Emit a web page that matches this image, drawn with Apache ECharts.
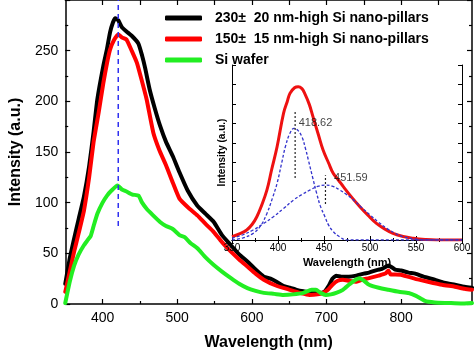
<!DOCTYPE html>
<html><head><meta charset="utf-8">
<script src="https://cdn.jsdelivr.net/npm/echarts@6/dist/echarts.min.js"></script>
<style>html,body{margin:0;padding:0;background:#fff}#c{width:474px;height:356px}</style>
</head><body><div id="c"></div>
<script>
// ---- main chart data (wavelength nm, intensity a.u.) ----
const seriesNames = ['230\u00b1  20 nm-high Si nano-pillars', '150\u00b1  15 nm-high Si nano-pillars', 'Si wafer'];
const blackData = [[350,20],[356,45],[362,65],[368,84],[375,106],[382,136],[388,170],[393,202],[401,235],[406,252],[410,268],[414,278],[417,282],[421,280],[426,273],[432,269],[440,264],[448,257],[453,245],[457,233],[463,212],[470,193],[477,176],[485,160],[494,146],[503,130],[514,112],[527,97],[538,89],[549,81],[560,68],[572,58],[583,49],[594,42],[605,34],[616,27],[625,25],[633,22],[642,18],[651,16],[660,14],[669,12.5],[680,11],[691,11],[697,12],[703,18],[708,25],[713,28],[720,27],[730,27],[740,28],[750,30],[757,31],[765,33],[775,35],[783,38],[788,36],[792,34],[800,33],[810,31],[819,30],[830,27],[845,24],[858,21],[872,19],[885,17],[895,16]];
const redData = [[350,12],[356,32],[362,52],[368,70],[375,92],[382,125],[388,160],[395,190],[401,218],[406,238],[410,251],[415,260],[421,266],[426,263],[432,261],[439,250],[446,238],[452,222],[459,202],[468,169],[476,152],[485,137],[494,120],[503,104],[515,95],[527,87.5],[538,79],[549,71],[560,61],[572,51.6],[583,44],[594,37],[605,30],[616,24],[633,18],[651,14],[665,11],[677,9],[688,9.5],[695,10.8],[702,14],[708,19],[715,23],[722,24],[730,23],[739,22],[748,24],[757,25.5],[770,28],[779,30],[783,33],[786,29],[792,29],[801,28.7],[818,25],[836,22],[855,19],[872,17],[885,15],[895,14]];
const greenData = [[350,1],[356,22],[362,38],[368,49],[375,58],[380,63],[384,67],[388,77],[393,89],[400,100],[406,107],[412,112],[420,117],[426,113],[432,111],[440,108],[448,107],[453,100],[459,94],[467,88],[477,81],[485,77],[494,74],[503,68],[510,66],[518,60],[527,55],[538,46],[549,38.5],[560,32],[572,25.5],[583,20],[594,15.7],[605,13],[616,11],[630,10],[642,9],[655,9.5],[669,11],[680,14],[686,14],[692,11],[699,9],[706,9.5],[713,11],[722,14],[730,19],[737,23],[744,25.5],[750,23],[757,19],[770,16],[783,14],[797,12],[810,10.8],[820,8],[832,3],[845,1.5],[863,1],[880,0.5],[895,1]];
const peakMarker = [[421,77],[421,300]];
const xMajorTicks = [400,500,600,700,800];
const xMinorTicks = [450,550,650,750,850];
const xAllTicks = [400,450,500,550,600,650,700,750,800,850];

// ---- inset data (wavelength nm, relative intensity) ----
const insetRed = [[350,1.9],[358,3.5],[366,5.7],[372,9],[377,13.3],[382,19.5],[388,28.6],[393,40],[399,53.3],[406,72.4],[410,79],[413,83.8],[418,87],[422,87.6],[426,86.5],[429,83.8],[434,77.5],[438,70.5],[444,60],[449,51.4],[455,44],[460,38.1],[466,34],[471,30.5],[480,24.5],[489,19],[498,14],[507,9.5],[516,6.3],[525,3.8],[536,2],[547,1],[560,0.3],[572,0],[600,0]];
const insetG1 = [[350,0],[362,1.2],[373,3.8],[381,8],[388,15.2],[394,24],[399,32.4],[404,44],[408,53.3],[413,61],[417.4,63.8],[421,63],[426,59],[430,52],[433,45.7],[438,35],[442,26.7],[446,19.5],[451,13.3],[455,8.5],[460,4.8],[467,1.8],[475,0],[600,0]];
const insetG2 = [[350,1],[362,3],[373,5.7],[384,9.3],[395,13.3],[406,18],[417,22.9],[426,26],[435,28.6],[443,30.6],[451,31.4],[459,30.8],[467,28.6],[475,25.8],[482,22.9],[491,18.5],[500,14.3],[509,10.3],[518,6.7],[527,3.9],[536,1.9],[548,0.6],[560,0],[600,0]];
const fitPeaks = [418.62, 451.59];
const fitMarker1 = [[418.62,35.4],[418.62,74]];
const fitMarker2 = [[451.59,20.6],[451.59,37]];
const fitLabelPos = [[422.5,66.8],[460.9,35.4]];

const FONT = 'Liberation Sans, Arial, sans-serif';
const chart = echarts.init(document.getElementById('c'), null, {renderer:'canvas'});
const axisLine = {show:true, lineStyle:{color:'#000', width:1.5}};

chart.setOption({
  animation:false,
  backgroundColor:'#fff',
  grid:[
    {left:60, right:2, top:0, bottom:50, containLabel:false},
    {left:232, right:12, top:65, bottom:116, show:true, backgroundColor:'#fff', borderWidth:0, z:10}
  ],
  legend:{
    data:seriesNames, orient:'vertical', left:160, top:5, itemWidth:37, itemHeight:5, itemGap:5,
    icon:'roundRect', selectedMode:false,
    textStyle:{fontFamily:FONT, fontSize:14, fontWeight:'bold', color:'#000', lineHeight:16, padding:[0,0,0,8]}
  },
  xAxis:[
    {type:'value', gridIndex:0, position:'bottom', min:350, max:895,
     axisLine:axisLine,
     axisTick:{show:true, inside:true, length:5, customValues:xMajorTicks, lineStyle:{color:'#000', width:1.2}},
     axisLabel:{show:true, customValues:xMajorTicks, fontFamily:FONT, fontSize:14, color:'#000', margin:7},
     splitLine:{show:false},
     name:'Wavelength (nm)', nameLocation:'middle', nameGap:31,
     nameTextStyle:{fontFamily:FONT, fontSize:16, fontWeight:'bold', color:'#000'}},
    {type:'value', gridIndex:0, position:'bottom', min:350, max:895,
     axisLine:{show:false},
     axisTick:{show:true, inside:true, length:3, customValues:xMinorTicks, lineStyle:{color:'#000', width:1.2}},
     axisLabel:{show:false}, splitLine:{show:false}},
    {type:'value', gridIndex:0, position:'top', min:350, max:895,
     axisLine:axisLine,
     axisTick:{show:true, inside:true, length:5, customValues:xAllTicks, lineStyle:{color:'#000', width:1.2}},
     axisLabel:{show:false}, splitLine:{show:false}},
    {type:'value', gridIndex:1, position:'bottom', min:350, max:600, interval:50, z:11,
     axisLine:{show:true, lineStyle:{color:'#000', width:1}},
     axisTick:{show:true, inside:true, length:4, lineStyle:{color:'#000'}},
     minorTick:{show:true, splitNumber:2, length:2, lineStyle:{color:'#000'}},
     axisLabel:{show:true, fontFamily:FONT, fontSize:10, color:'#000', margin:3},
     splitLine:{show:false},
     name:'Wavelength (nm)', nameLocation:'middle', nameGap:17,
     nameTextStyle:{fontFamily:FONT, fontSize:11, fontWeight:'bold', color:'#000'}},
    {type:'value', gridIndex:1, position:'top', min:350, max:600, interval:50, z:11,
     axisLine:{show:true, lineStyle:{color:'#000', width:1}},
     axisTick:{show:true, inside:true, length:4, lineStyle:{color:'#000'}},
     minorTick:{show:true, splitNumber:2, length:2, lineStyle:{color:'#000'}},
     axisLabel:{show:false}, splitLine:{show:false}}
  ],
  yAxis:[
    {type:'value', gridIndex:0, position:'left', min:0, max:300, interval:50,
     axisLine:axisLine,
     axisTick:{show:true, inside:true, length:5, lineStyle:{color:'#000', width:1.2}},
     minorTick:{show:true, splitNumber:2, length:3, lineStyle:{color:'#000', width:1.2}},
     axisLabel:{show:true, fontFamily:FONT, fontSize:14, color:'#000', margin:7,
       formatter:v => v >= 300 ? '' : String(v)},
     splitLine:{show:false},
     name:'Intensity (a.u.)', nameLocation:'middle', nameGap:40,
     nameTextStyle:{fontFamily:FONT, fontSize:16, fontWeight:'bold', color:'#000'}},
    {type:'value', gridIndex:0, position:'right', min:0, max:300, interval:50,
     axisLine:axisLine,
     axisTick:{show:true, inside:true, length:5, lineStyle:{color:'#000', width:1.2}},
     minorTick:{show:true, splitNumber:2, length:3, lineStyle:{color:'#000', width:1.2}},
     axisLabel:{show:false}, splitLine:{show:false}},
    {type:'value', gridIndex:1, position:'left', min:0, max:100, interval:100/9, z:11,
     axisLine:{show:true, lineStyle:{color:'#000', width:1}},
     axisTick:{show:true, inside:true, length:4, lineStyle:{color:'#000'}},
     axisLabel:{show:false}, splitLine:{show:false},
     name:'Intensity (a.u.)', nameLocation:'middle', nameGap:5,
     nameTextStyle:{fontFamily:FONT, fontSize:10, fontWeight:'bold', color:'#000'}},
    {type:'value', gridIndex:1, position:'right', min:0, max:100, interval:100/9, z:11,
     axisLine:{show:true, lineStyle:{color:'#000', width:1}},
     axisTick:{show:true, inside:true, length:4, lineStyle:{color:'#000'}},
     axisLabel:{show:false}, splitLine:{show:false}}
  ],
  series:[
    {name:seriesNames[0], type:'line', xAxisIndex:0, yAxisIndex:0, data:blackData, showSymbol:false, smooth:0.15,
     lineStyle:{color:'#000', width:4, cap:'round', join:'round'}, itemStyle:{color:'#000'}, z:2},
    {name:seriesNames[1], type:'line', xAxisIndex:0, yAxisIndex:0, data:redData, showSymbol:false, smooth:0.15,
     lineStyle:{color:'#ff0000', width:4, cap:'round', join:'round'}, itemStyle:{color:'#ff0000'}, z:3},
    {name:seriesNames[2], type:'line', xAxisIndex:0, yAxisIndex:0, data:greenData, showSymbol:false, smooth:0.15,
     lineStyle:{color:'#22ee22', width:4, cap:'round', join:'round'}, itemStyle:{color:'#22ee22'}, z:4},
    {type:'line', xAxisIndex:0, yAxisIndex:0, data:peakMarker, showSymbol:false,
     lineStyle:{color:'#3030f0', width:1.5, type:[5,4]}, z:5},
    // inset
    {type:'line', xAxisIndex:3, yAxisIndex:2, data:insetRed, showSymbol:false, smooth:0.4,
     lineStyle:{color:'#ee1111', width:3}, z:12},
    {type:'line', xAxisIndex:3, yAxisIndex:2, data:insetG1, showSymbol:false, smooth:0.4,
     lineStyle:{color:'#3333cc', width:1.3, type:[3,2]}, z:13},
    {type:'line', xAxisIndex:3, yAxisIndex:2, data:insetG2, showSymbol:false, smooth:0.4,
     lineStyle:{color:'#3333cc', width:1.3, type:[3,2]}, z:13},
    {type:'line', xAxisIndex:3, yAxisIndex:2, data:fitMarker1, showSymbol:false,
     lineStyle:{color:'#222', width:1.2, type:[2,2]}, z:13},
    {type:'line', xAxisIndex:3, yAxisIndex:2, data:fitMarker2, showSymbol:false,
     lineStyle:{color:'#222', width:1.2, type:[2,2]}, z:13},
    {type:'scatter', xAxisIndex:3, yAxisIndex:2, symbolSize:0, z:14,
     data:fitLabelPos.map((p,i)=>({value:p, label:{formatter:fitPeaks[i].toFixed(2)}})),
     label:{show:true, position:'right', distance:0, fontFamily:FONT, fontSize:11, color:'#111'}}
  ]
});
</script></body></html>
